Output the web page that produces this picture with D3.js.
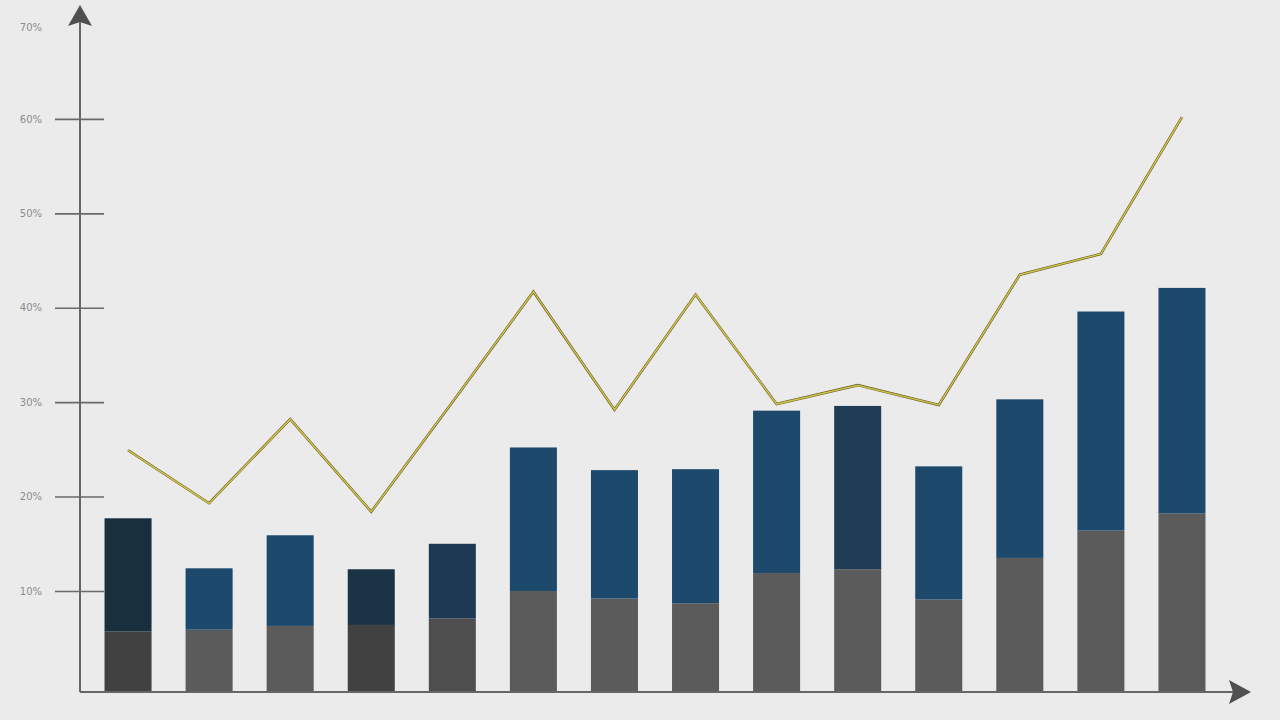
<!DOCTYPE html>
<html>
<head>
<meta charset="utf-8">
<script src="https://cdn.jsdelivr.net/npm/d3@7"></script>
<style>
  html, body { margin: 0; padding: 0; background: #ebebeb; }
  svg { display: block; }
</style>
</head>
<body>
<svg id="chart" width="1280" height="720"></svg>
<script>
// data
const categories = ['P1', 'P2', 'P3', 'P4', 'P5', 'P6', 'P7', 'P8', 'P9', 'P10', 'P11', 'P12', 'P13', 'P14'];
const baseValues = [5.7, 5.9, 6.3, 6.4, 7.1, 10.0, 9.2, 8.7, 11.9, 12.3, 9.1, 13.5, 16.4, 18.2];
const upperValues = [12.0, 6.5, 9.6, 5.9, 7.9, 15.2, 13.6, 14.2, 17.2, 17.3, 14.1, 16.8, 23.2, 23.9];
const lineValues = [24.9, 19.3, 28.2, 18.4, 30.0, 41.7, 29.2, 41.4, 29.8, 31.8, 29.7, 43.5, 45.7, 60.2];
const tickValues = [10, 20, 30, 40, 50, 60, 70];
const tickLabels = ['10%', '20%', '30%', '40%', '50%', '60%', '70%'];

const svg = d3.select('#chart');

const x = d3.scaleBand()
  .domain(categories)
  .range([87.5, 1222.5])
  .paddingInner(0.42)
  .paddingOuter(0.21);

const y = d3.scaleLinear()
  .domain([-0.7, 70])
  .range([692, 24.5]);

const rows = categories.map((c, i) => ({
  cat: c,
  base: baseValues[i],
  upper: upperValues[i],
  line: lineValues[i],
}));

// a few bars are drawn in a darker shade
function baseFill(d) {
  if (d.cat === 'P1' || d.cat === 'P4') return '#414141';
  if (d.cat === 'P5') return '#4e4e4e';
  return '#5b5b5b';
}
function upperFill(d) {
  if (d.cat === 'P1') return '#1a2f3e';
  if (d.cat === 'P4') return '#1b3445';
  if (d.cat === 'P5') return '#1c3a53';
  if (d.cat === 'P10') return '#1f3d56';
  return '#1d4a6c';
}

// axis ticks
const yAxis = d3.axisLeft(y)
  .tickValues(tickValues)
  .tickFormat((d, i) => tickLabels[i])
  .tickSize(0);

const gy = svg.append('g')
  .attr('transform', 'translate(80,0)')
  .call(yAxis);
gy.select('.domain').remove();
gy.selectAll('.tick line')
  .attr('x1', -25)
  .attr('x2', 24)
  .attr('stroke', '#6a6a6a')
  .attr('stroke-width', 1.6)
  .attr('display', (d) => (d === 70 ? 'none' : null));
gy.selectAll('.tick text')
  .attr('x', -38)
  .attr('dy', '0.32em')
  .attr('fill', '#8c8c8c')
  .style('font-family', 'DejaVu Sans, sans-serif')
  .style('font-size', '10px');
gy.selectAll('.tick')
  .filter((d) => d === 70)
  .attr('transform', `translate(0,${y(70) + 3.5})`);

// stacked bars
const barG = svg.append('g');
barG.selectAll('rect.base')
  .data(rows)
  .join('rect')
  .attr('class', 'base')
  .attr('x', (d) => x(d.cat))
  .attr('width', x.bandwidth())
  .attr('y', (d) => y(d.base))
  .attr('height', (d) => y(-0.7) - y(d.base))
  .attr('fill', baseFill);

barG.selectAll('rect.upper')
  .data(rows)
  .join('rect')
  .attr('class', 'upper')
  .attr('x', (d) => x(d.cat))
  .attr('width', x.bandwidth())
  .attr('y', (d) => y(d.base + d.upper))
  .attr('height', (d) => y(d.base) - y(d.base + d.upper))
  .attr('fill', upperFill);

// axis lines with arrow heads
svg.append('line')
  .attr('x1', 80).attr('x2', 80)
  .attr('y1', 20).attr('y2', 692)
  .attr('stroke', '#666')
  .attr('stroke-width', 2);
svg.append('line')
  .attr('x1', 80).attr('x2', 1236)
  .attr('y1', 692).attr('y2', 692)
  .attr('stroke', '#666')
  .attr('stroke-width', 2);
svg.append('path')
  .attr('d', 'M80,5 L92,26 L80,22 L68,26 Z')
  .attr('fill', '#505050');
svg.append('path')
  .attr('d', 'M1251,692 L1229,680 L1233,692 L1229,704 Z')
  .attr('fill', '#505050');

// line series
const line = d3.line()
  .x((d) => x(d.cat) + x.bandwidth() / 2)
  .y((d) => y(d.line));

svg.append('path')
  .datum(rows)
  .attr('d', line)
  .attr('fill', 'none')
  .attr('stroke', '#5a5224')
  .attr('stroke-width', 2.5);

svg.append('path')
  .datum(rows)
  .attr('d', line)
  .attr('fill', 'none')
  .attr('stroke', '#d2c446')
  .attr('stroke-width', 1.5);
</script>
</body>
</html>
